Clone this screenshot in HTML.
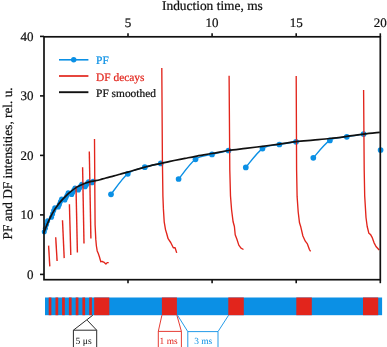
<!DOCTYPE html>
<html><head><meta charset="utf-8"><title>PF and DF intensities</title>
<style>html,body{margin:0;padding:0;background:#fff}</style></head>
<body>
<svg width="387" height="347" viewBox="0 0 387 347" style="display:block;font-family:'Liberation Serif',serif;text-rendering:geometricPrecision">
<rect width="387" height="347" fill="#fff"/>
<path d="M44.3,231.8 L45.4,228.2 L46.5,224.5 L47.6,220.9 L51.5,217.2 L52.6,213.9 L53.7,210.6 L54.8,207.7 L58.3,207.0 L59.4,204.4 L60.5,201.6 L61.6,199.1 L64.9,200.0 L66.0,197.5 L67.1,195.2 L68.2,192.9 L71.7,194.5 L72.8,192.3 L73.9,190.1 L75.0,188.0 L78.5,189.9 L79.6,187.9 L80.7,186.0 L81.8,184.2 L85.2,186.8 L86.3,185.1 L87.4,183.3 L88.5,181.7 L92.0,182.8 L93.1,181.4" stroke="#0b90e5" stroke-width="1.3" fill="none"/>
<circle cx="44.3" cy="231.8" r="2.55" fill="#0b90e5"/>
<circle cx="45.4" cy="228.2" r="2.55" fill="#0b90e5"/>
<circle cx="46.5" cy="224.5" r="2.55" fill="#0b90e5"/>
<circle cx="47.6" cy="220.9" r="2.55" fill="#0b90e5"/>
<circle cx="51.5" cy="217.2" r="2.55" fill="#0b90e5"/>
<circle cx="52.6" cy="213.9" r="2.55" fill="#0b90e5"/>
<circle cx="53.7" cy="210.6" r="2.55" fill="#0b90e5"/>
<circle cx="54.8" cy="207.7" r="2.55" fill="#0b90e5"/>
<circle cx="58.3" cy="207.0" r="2.55" fill="#0b90e5"/>
<circle cx="59.4" cy="204.4" r="2.55" fill="#0b90e5"/>
<circle cx="60.5" cy="201.6" r="2.55" fill="#0b90e5"/>
<circle cx="61.6" cy="199.1" r="2.55" fill="#0b90e5"/>
<circle cx="64.9" cy="200.0" r="2.55" fill="#0b90e5"/>
<circle cx="66.0" cy="197.5" r="2.55" fill="#0b90e5"/>
<circle cx="67.1" cy="195.2" r="2.55" fill="#0b90e5"/>
<circle cx="68.2" cy="192.9" r="2.55" fill="#0b90e5"/>
<circle cx="71.7" cy="194.5" r="2.55" fill="#0b90e5"/>
<circle cx="72.8" cy="192.3" r="2.55" fill="#0b90e5"/>
<circle cx="73.9" cy="190.1" r="2.55" fill="#0b90e5"/>
<circle cx="75.0" cy="188.0" r="2.55" fill="#0b90e5"/>
<circle cx="78.5" cy="189.9" r="2.55" fill="#0b90e5"/>
<circle cx="79.6" cy="187.9" r="2.55" fill="#0b90e5"/>
<circle cx="80.7" cy="186.0" r="2.55" fill="#0b90e5"/>
<circle cx="81.8" cy="184.2" r="2.55" fill="#0b90e5"/>
<circle cx="85.2" cy="186.8" r="2.55" fill="#0b90e5"/>
<circle cx="86.3" cy="185.1" r="2.55" fill="#0b90e5"/>
<circle cx="87.4" cy="183.3" r="2.55" fill="#0b90e5"/>
<circle cx="88.5" cy="181.7" r="2.55" fill="#0b90e5"/>
<circle cx="92.0" cy="182.8" r="2.55" fill="#0b90e5"/>
<circle cx="93.1" cy="181.4" r="2.55" fill="#0b90e5"/>
<path d="M111.00,194.30 C113.80,190.88 122.17,178.32 127.80,173.80 C133.43,169.28 139.30,168.93 144.80,167.20 C150.30,165.47 158.13,164.03 160.80,163.40" stroke="#0b90e5" stroke-width="1.4" fill="none"/>
<circle cx="111.0" cy="194.3" r="2.85" fill="#0b90e5"/>
<circle cx="127.8" cy="173.8" r="2.85" fill="#0b90e5"/>
<circle cx="144.8" cy="167.2" r="2.85" fill="#0b90e5"/>
<circle cx="160.8" cy="163.4" r="2.85" fill="#0b90e5"/>
<path d="M178.60,179.00 C181.42,175.72 189.93,163.40 195.50,159.30 C201.07,155.20 206.50,155.87 212.00,154.40 C217.50,152.93 225.75,151.15 228.50,150.50" stroke="#0b90e5" stroke-width="1.4" fill="none"/>
<circle cx="178.6" cy="179" r="2.85" fill="#0b90e5"/>
<circle cx="195.5" cy="159.3" r="2.85" fill="#0b90e5"/>
<circle cx="212" cy="154.4" r="2.85" fill="#0b90e5"/>
<circle cx="228.5" cy="150.5" r="2.85" fill="#0b90e5"/>
<path d="M245.80,167.40 C248.58,164.27 256.90,152.42 262.50,148.60 C268.10,144.78 273.82,145.63 279.40,144.50 C284.98,143.37 293.23,142.25 296.00,141.80" stroke="#0b90e5" stroke-width="1.4" fill="none"/>
<circle cx="245.8" cy="167.4" r="2.85" fill="#0b90e5"/>
<circle cx="262.5" cy="148.6" r="2.85" fill="#0b90e5"/>
<circle cx="279.4" cy="144.5" r="2.85" fill="#0b90e5"/>
<circle cx="296" cy="141.8" r="2.85" fill="#0b90e5"/>
<path d="M313.30,157.80 C316.07,154.90 324.32,143.90 329.90,140.40 C335.48,136.90 341.18,137.85 346.80,136.80 C352.42,135.75 360.80,134.55 363.60,134.10" stroke="#0b90e5" stroke-width="1.4" fill="none"/>
<circle cx="313.3" cy="157.8" r="2.85" fill="#0b90e5"/>
<circle cx="329.9" cy="140.4" r="2.85" fill="#0b90e5"/>
<circle cx="346.8" cy="136.8" r="2.85" fill="#0b90e5"/>
<circle cx="363.6" cy="134.1" r="2.85" fill="#0b90e5"/>
<circle cx="380.6" cy="150.0" r="2.85" fill="#0b90e5"/>
<path d="M48.6,245.6 L49.8,266.4" stroke="#e2251c" stroke-width="1.4" fill="none"/>
<path d="M55.7,237.3 L57.1,261" stroke="#e2251c" stroke-width="1.4" fill="none"/>
<path d="M62.5,220.2 L64.2,258.1" stroke="#e2251c" stroke-width="1.4" fill="none"/>
<path d="M69.4,204.3 L70.8,254.9" stroke="#e2251c" stroke-width="1.4" fill="none"/>
<path d="M76,186.2 L77.4,252.5" stroke="#e2251c" stroke-width="1.4" fill="none"/>
<path d="M82.6,167.2 L84,243.4" stroke="#e2251c" stroke-width="1.4" fill="none"/>
<path d="M89.3,151.6 L90.9,238.5" stroke="#e2251c" stroke-width="1.4" fill="none"/>
<path d="M94.5,139.1 L94.9,200.0 L95.1,225.0 L95.8,239.4 L96.4,246.0 L97.2,250.9 L98.2,253.2 L99.4,256.7 L100.8,261.7 L102.2,261.5 L103.7,262.1 L105.9,264.1 L107.2,262.6 L108.7,262.7" stroke="#e2251c" stroke-width="1.35" fill="none" stroke-linejoin="round"/>
<path d="M161.8,67.9 L162.4,160.0 L162.9,196.0 L163.4,208.9 L164.2,221.8 L165.5,229.6 L166.6,233.2 L168.1,238.7 L170.7,242.5 L173.3,247.7 L175.1,247.7 L176.7,252.9" stroke="#e2251c" stroke-width="1.35" fill="none" stroke-linejoin="round"/>
<path d="M229.1,75.7 L229.8,170.0 L230.5,196.0 L231.6,210.0 L233.1,221.8 L234.4,226.5 L235.2,234.8 L237.0,239.5 L238.8,245.1 L241.0,248.2 L243.5,249.5" stroke="#e2251c" stroke-width="1.35" fill="none" stroke-linejoin="round"/>
<path d="M296.2,75.9 L296.6,170.0 L297.1,196.4 L298.2,212.0 L299.5,222.8 L300.6,226.2 L302.9,236.0 L305.3,241.2 L307.4,243.9 L309.4,249.5 L310.6,251.3" stroke="#e2251c" stroke-width="1.35" fill="none" stroke-linejoin="round"/>
<path d="M363.6,90.0 L364.2,170.0 L364.7,196.0 L366.0,217.5 L367.2,226.5 L368.9,233.3 L370.6,234.6 L372.1,237.3 L374.0,242.6 L376.0,246.5 L379.2,250.0" stroke="#e2251c" stroke-width="1.35" fill="none" stroke-linejoin="round"/>
<path d="M43.50,233.50 C44.08,232.03 45.83,227.45 47.00,224.70 C48.17,221.95 49.33,219.35 50.50,217.00 C51.67,214.65 52.83,212.52 54.00,210.60 C55.17,208.68 56.33,207.08 57.50,205.50 C58.67,203.92 59.58,202.72 61.00,201.10 C62.42,199.48 64.33,197.42 66.00,195.80 C67.67,194.18 69.25,192.80 71.00,191.40 C72.75,190.00 75.00,188.38 76.50,187.40 C78.00,186.42 78.58,186.18 80.00,185.50 C81.42,184.82 83.28,183.95 85.00,183.30 C86.72,182.65 88.55,182.03 90.30,181.60 C92.05,181.17 93.88,181.02 95.50,180.70 C97.12,180.38 98.28,180.15 100.00,179.70 C101.72,179.25 103.47,178.63 105.80,178.00 C108.13,177.37 111.63,176.53 114.00,175.90 C116.37,175.27 117.70,174.83 120.00,174.20 C122.30,173.57 124.97,172.90 127.80,172.10 C130.63,171.30 134.13,170.23 137.00,169.40 C139.87,168.57 142.83,167.70 145.00,167.10 C147.17,166.50 147.30,166.42 150.00,165.80 C152.70,165.18 157.87,164.13 161.20,163.40 C164.53,162.67 166.87,162.08 170.00,161.40 C173.13,160.72 177.50,159.80 180.00,159.30 C182.50,158.80 182.42,158.90 185.00,158.40 C187.58,157.90 191.00,157.12 195.50,156.30 C200.00,155.48 206.52,154.47 212.00,153.50 C217.48,152.53 222.80,151.35 228.40,150.50 C234.00,149.65 239.92,149.10 245.60,148.40 C251.28,147.70 256.87,147.02 262.50,146.30 C268.13,145.58 273.82,144.87 279.40,144.10 C284.98,143.33 290.40,142.37 296.00,141.70 C301.60,141.03 307.35,140.63 313.00,140.10 C318.65,139.57 324.27,139.12 329.90,138.50 C335.53,137.88 341.20,137.13 346.80,136.40 C352.40,135.67 358.00,134.78 363.50,134.10 C369.00,133.42 377.08,132.60 379.80,132.30" stroke="#111" stroke-width="1.7" fill="none"/>
<rect x="44.0" y="36.8" width="336.3" height="242.89999999999998" fill="none" stroke="#111" stroke-width="1.7"/>
<line x1="40.0" y1="274.4" x2="44.0" y2="274.4" stroke="#111" stroke-width="1.6"/>
<text x="33.6" y="278.9" font-size="13" text-anchor="end" fill="#111" stroke="#111" stroke-width="0.22">0</text>
<line x1="40.0" y1="214.9" x2="44.0" y2="214.9" stroke="#111" stroke-width="1.6"/>
<text x="33.6" y="219.4" font-size="13" text-anchor="end" fill="#111" stroke="#111" stroke-width="0.22">10</text>
<line x1="40.0" y1="155.4" x2="44.0" y2="155.4" stroke="#111" stroke-width="1.6"/>
<text x="33.6" y="159.9" font-size="13" text-anchor="end" fill="#111" stroke="#111" stroke-width="0.22">20</text>
<line x1="40.0" y1="95.9" x2="44.0" y2="95.9" stroke="#111" stroke-width="1.6"/>
<text x="33.6" y="100.4" font-size="13" text-anchor="end" fill="#111" stroke="#111" stroke-width="0.22">30</text>
<line x1="40.0" y1="36.4" x2="44.0" y2="36.4" stroke="#111" stroke-width="1.6"/>
<text x="33.6" y="40.9" font-size="13" text-anchor="end" fill="#111" stroke="#111" stroke-width="0.22">40</text>
<line x1="128.0" y1="33.3" x2="128.0" y2="36.8" stroke="#111" stroke-width="1.6"/>
<line x1="128.0" y1="279.7" x2="128.0" y2="283.2" stroke="#111" stroke-width="1.6"/>
<text x="128.0" y="27.3" font-size="13" text-anchor="middle" fill="#111" stroke="#111" stroke-width="0.22">5</text>
<line x1="212.1" y1="33.3" x2="212.1" y2="36.8" stroke="#111" stroke-width="1.6"/>
<line x1="212.1" y1="279.7" x2="212.1" y2="283.2" stroke="#111" stroke-width="1.6"/>
<text x="212.1" y="27.3" font-size="13" text-anchor="middle" fill="#111" stroke="#111" stroke-width="0.22">10</text>
<line x1="296.2" y1="33.3" x2="296.2" y2="36.8" stroke="#111" stroke-width="1.6"/>
<line x1="296.2" y1="279.7" x2="296.2" y2="283.2" stroke="#111" stroke-width="1.6"/>
<text x="296.2" y="27.3" font-size="13" text-anchor="middle" fill="#111" stroke="#111" stroke-width="0.22">15</text>
<line x1="380.3" y1="33.3" x2="380.3" y2="36.8" stroke="#111" stroke-width="1.6"/>
<line x1="380.3" y1="279.7" x2="380.3" y2="283.2" stroke="#111" stroke-width="1.6"/>
<text x="380.3" y="27.3" font-size="13" text-anchor="middle" fill="#111" stroke="#111" stroke-width="0.22">20</text>
<text x="212.4" y="9.6" font-size="13.4" text-anchor="middle" fill="#111" stroke="#111" stroke-width="0.22">Induction time, ms</text>
<text transform="translate(11.9,163.4) rotate(-90)" font-size="13.3" text-anchor="middle" fill="#111" stroke="#111" stroke-width="0.22">PF and DF intensities, rel. u.</text>
<line x1="59" y1="59.8" x2="88.4" y2="59.8" stroke="#0b90e5" stroke-width="1.6"/><circle cx="73.7" cy="59.8" r="2.7" fill="#0b90e5"/>
<line x1="59" y1="76.0" x2="88.4" y2="76.0" stroke="#e2251c" stroke-width="1.7"/>
<line x1="59" y1="92.2" x2="88.4" y2="92.2" stroke="#111" stroke-width="1.9"/>
<text x="96.1" y="64" font-size="11.4" fill="#0b90e5" stroke="#0b90e5" stroke-width="0.22">PF</text>
<text x="96.1" y="80.8" font-size="11.4" fill="#e2251c" stroke="#e2251c" stroke-width="0.22">DF decays</text>
<text x="96.1" y="96.9" font-size="11.4" fill="#111" stroke="#111" stroke-width="0.22">PF smoothed</text>
<rect x="45" y="297.5" width="337.1" height="17.69999999999999" fill="#0b90e5"/>
<rect x="48.7" y="297.5" width="2.7" height="17.69999999999999" fill="#e2251c"/>
<rect x="55.5" y="297.5" width="2.7" height="17.69999999999999" fill="#e2251c"/>
<rect x="62.1" y="297.5" width="2.7" height="17.69999999999999" fill="#e2251c"/>
<rect x="68.9" y="297.5" width="2.7" height="17.69999999999999" fill="#e2251c"/>
<rect x="75.7" y="297.5" width="2.7" height="17.69999999999999" fill="#e2251c"/>
<rect x="82.4" y="297.5" width="2.7" height="17.69999999999999" fill="#e2251c"/>
<rect x="89.2" y="297.5" width="2.7" height="17.69999999999999" fill="#e2251c"/>
<rect x="94.2" y="297.5" width="15.1" height="17.69999999999999" fill="#e2251c"/>
<rect x="161.9" y="297.5" width="15.0" height="17.69999999999999" fill="#e2251c"/>
<rect x="228.3" y="297.5" width="15.5" height="17.69999999999999" fill="#e2251c"/>
<rect x="296.3" y="297.5" width="15.5" height="17.69999999999999" fill="#e2251c"/>
<rect x="363" y="297.5" width="15.2" height="17.69999999999999" fill="#e2251c"/>
<path d="M92.8,315.2 L73.4,330.2 V347 M87.2,320.2 L96.7,330.2 V347 M73.4,330.2 H96.7" stroke="#2a2a2a" stroke-width="1.0" fill="none"/>
<text x="83.7" y="343.7" font-size="9.7" text-anchor="middle" fill="#111">5 μs</text>
<path d="M161.9,315.2 L158.3,331.4 V347 M176.9,315.2 L181.4,331.4 V347 M158.3,331.4 H181.4" stroke="#e2251c" stroke-width="0.9" fill="none"/>
<text x="168.6" y="343.6" font-size="9.4" text-anchor="middle" fill="#e2251c">1 ms</text>
<path d="M177.5,315.2 L187.8,331.6 V347 M228.6,315.2 L218,331.6 V347 M187.8,331.6 H218" stroke="#0b90e5" stroke-width="0.9" fill="none"/>
<text x="203.2" y="343.6" font-size="9.4" text-anchor="middle" fill="#0b90e5">3 ms</text>
</svg>
</body></html>
